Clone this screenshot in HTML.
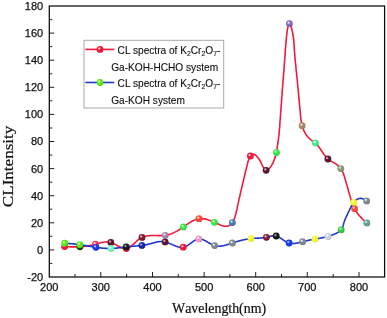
<!DOCTYPE html>
<html><head><meta charset="utf-8"><title>CL spectra</title>
<style>html,body{margin:0;padding:0;background:#fff}svg{display:block}</style></head>
<body>
<svg width="387" height="318" viewBox="0 0 387 318">
<defs>
<radialGradient id="g_red" cx="0.38" cy="0.36" r="0.68"><stop offset="0" stop-color="#fff"/><stop offset="0.1" stop-color="#ffc0cc"/><stop offset="0.36" stop-color="#f21838"/><stop offset="0.8" stop-color="#f21838"/><stop offset="1" stop-color="#c01030"/></radialGradient>
<radialGradient id="g_lred" cx="0.38" cy="0.36" r="0.68"><stop offset="0" stop-color="#fff"/><stop offset="0.1" stop-color="#ffd0d8"/><stop offset="0.36" stop-color="#ff3858"/><stop offset="0.8" stop-color="#ff3858"/><stop offset="1" stop-color="#d02040"/></radialGradient>
<radialGradient id="g_dkgreen" cx="0.38" cy="0.36" r="0.68"><stop offset="0" stop-color="#fff"/><stop offset="0.1" stop-color="#80a080"/><stop offset="0.36" stop-color="#204020"/><stop offset="0.8" stop-color="#204020"/><stop offset="1" stop-color="#102010"/></radialGradient>
<radialGradient id="g_maroon" cx="0.38" cy="0.36" r="0.68"><stop offset="0" stop-color="#fff"/><stop offset="0.1" stop-color="#d0a8b8"/><stop offset="0.36" stop-color="#581830"/><stop offset="0.8" stop-color="#581830"/><stop offset="1" stop-color="#300818"/></radialGradient>
<radialGradient id="g_maroon2" cx="0.38" cy="0.36" r="0.68"><stop offset="0" stop-color="#fff"/><stop offset="0.1" stop-color="#d8b0b8"/><stop offset="0.36" stop-color="#801c30"/><stop offset="0.8" stop-color="#801c30"/><stop offset="1" stop-color="#500818"/></radialGradient>
<radialGradient id="g_mauve" cx="0.38" cy="0.36" r="0.68"><stop offset="0" stop-color="#fff"/><stop offset="0.1" stop-color="#f0e0f0"/><stop offset="0.36" stop-color="#b080b0"/><stop offset="0.8" stop-color="#b080b0"/><stop offset="1" stop-color="#805880"/></radialGradient>
<radialGradient id="g_green" cx="0.38" cy="0.36" r="0.68"><stop offset="0" stop-color="#fff"/><stop offset="0.1" stop-color="#c8ffc8"/><stop offset="0.36" stop-color="#38e848"/><stop offset="0.8" stop-color="#38e848"/><stop offset="1" stop-color="#20b830"/></radialGradient>
<radialGradient id="g_green2" cx="0.38" cy="0.36" r="0.68"><stop offset="0" stop-color="#fff"/><stop offset="0.1" stop-color="#c0f8c0"/><stop offset="0.36" stop-color="#38c848"/><stop offset="0.8" stop-color="#38c848"/><stop offset="1" stop-color="#209830"/></radialGradient>
<radialGradient id="g_lime" cx="0.38" cy="0.36" r="0.68"><stop offset="0" stop-color="#fff"/><stop offset="0.1" stop-color="#e0ffb0"/><stop offset="0.36" stop-color="#58e818"/><stop offset="0.8" stop-color="#58e818"/><stop offset="1" stop-color="#38b808"/></radialGradient>
<radialGradient id="g_orange" cx="0.38" cy="0.36" r="0.68"><stop offset="0" stop-color="#fff"/><stop offset="0.1" stop-color="#ffd8c0"/><stop offset="0.36" stop-color="#ff4838"/><stop offset="0.8" stop-color="#ff4838"/><stop offset="1" stop-color="#d83020"/></radialGradient>
<radialGradient id="g_steel" cx="0.38" cy="0.36" r="0.68"><stop offset="0" stop-color="#fff"/><stop offset="0.1" stop-color="#d0e0f0"/><stop offset="0.36" stop-color="#4878b0"/><stop offset="0.8" stop-color="#4878b0"/><stop offset="1" stop-color="#305888"/></radialGradient>
<radialGradient id="g_purple" cx="0.38" cy="0.36" r="0.68"><stop offset="0" stop-color="#fff"/><stop offset="0.1" stop-color="#e8e0ff"/><stop offset="0.36" stop-color="#8868c0"/><stop offset="0.8" stop-color="#8868c0"/><stop offset="1" stop-color="#6048a0"/></radialGradient>
<radialGradient id="g_tan" cx="0.38" cy="0.36" r="0.68"><stop offset="0" stop-color="#fff"/><stop offset="0.1" stop-color="#f0e8d0"/><stop offset="0.36" stop-color="#a88868"/><stop offset="0.8" stop-color="#a88868"/><stop offset="1" stop-color="#806850"/></radialGradient>
<radialGradient id="g_mint" cx="0.38" cy="0.36" r="0.68"><stop offset="0" stop-color="#fff"/><stop offset="0.1" stop-color="#d8ffe8"/><stop offset="0.36" stop-color="#48e888"/><stop offset="0.8" stop-color="#48e888"/><stop offset="1" stop-color="#28b860"/></radialGradient>
<radialGradient id="g_olive" cx="0.38" cy="0.36" r="0.68"><stop offset="0" stop-color="#fff"/><stop offset="0.1" stop-color="#e0e8c8"/><stop offset="0.36" stop-color="#889878"/><stop offset="0.8" stop-color="#889878"/><stop offset="1" stop-color="#607050"/></radialGradient>
<radialGradient id="g_teal" cx="0.38" cy="0.36" r="0.68"><stop offset="0" stop-color="#fff"/><stop offset="0.1" stop-color="#d8f0e8"/><stop offset="0.36" stop-color="#68a098"/><stop offset="0.8" stop-color="#68a098"/><stop offset="1" stop-color="#407870"/></radialGradient>
<radialGradient id="g_blue" cx="0.38" cy="0.36" r="0.68"><stop offset="0" stop-color="#fff"/><stop offset="0.1" stop-color="#a8b8ff"/><stop offset="0.36" stop-color="#1838e8"/><stop offset="0.8" stop-color="#1838e8"/><stop offset="1" stop-color="#0820b0"/></radialGradient>
<radialGradient id="g_aqua" cx="0.38" cy="0.36" r="0.68"><stop offset="0" stop-color="#fff"/><stop offset="0.1" stop-color="#e0fff8"/><stop offset="0.36" stop-color="#78f0c0"/><stop offset="0.8" stop-color="#78f0c0"/><stop offset="1" stop-color="#50c898"/></radialGradient>
<radialGradient id="g_black" cx="0.38" cy="0.36" r="0.68"><stop offset="0" stop-color="#fff"/><stop offset="0.1" stop-color="#a0a0a0"/><stop offset="0.36" stop-color="#181818"/><stop offset="0.8" stop-color="#181818"/><stop offset="1" stop-color="#000000"/></radialGradient>
<radialGradient id="g_navy" cx="0.38" cy="0.36" r="0.68"><stop offset="0" stop-color="#fff"/><stop offset="0.1" stop-color="#90a0e0"/><stop offset="0.36" stop-color="#1828a0"/><stop offset="0.8" stop-color="#1828a0"/><stop offset="1" stop-color="#081068"/></radialGradient>
<radialGradient id="g_pink" cx="0.38" cy="0.36" r="0.68"><stop offset="0" stop-color="#fff"/><stop offset="0.1" stop-color="#fff0f8"/><stop offset="0.36" stop-color="#f098c0"/><stop offset="0.8" stop-color="#f098c0"/><stop offset="1" stop-color="#d07098"/></radialGradient>
<radialGradient id="g_gray" cx="0.38" cy="0.36" r="0.68"><stop offset="0" stop-color="#fff"/><stop offset="0.1" stop-color="#e8ecf0"/><stop offset="0.36" stop-color="#808890"/><stop offset="0.8" stop-color="#808890"/><stop offset="1" stop-color="#586068"/></radialGradient>
<radialGradient id="g_lgray" cx="0.38" cy="0.36" r="0.68"><stop offset="0" stop-color="#fff"/><stop offset="0.1" stop-color="#ffffff"/><stop offset="0.36" stop-color="#c8d0d8"/><stop offset="0.8" stop-color="#c8d0d8"/><stop offset="1" stop-color="#a0a8b0"/></radialGradient>
<radialGradient id="g_yellow" cx="0.38" cy="0.36" r="0.68"><stop offset="0" stop-color="#fff"/><stop offset="0.1" stop-color="#ffffd0"/><stop offset="0.36" stop-color="#f4f428"/><stop offset="0.8" stop-color="#f4f428"/><stop offset="1" stop-color="#d0d010"/></radialGradient>
</defs>
<rect width="387" height="318" fill="#fff"/>
<rect x="49.3" y="6.0" width="335.3" height="271.0" fill="none" stroke="#0a0a0a" stroke-width="1.25"/>
<path d="M75.0,277.0 v-3 M100.8,277.0 v-5 M126.6,277.0 v-3 M152.5,277.0 v-5 M178.3,277.0 v-3 M204.1,277.0 v-5 M229.9,277.0 v-3 M255.7,277.0 v-5 M281.5,277.0 v-3 M307.3,277.0 v-5 M333.2,277.0 v-3 M359.0,277.0 v-5 M49.3,263.4 h3 M49.3,249.9 h5 M49.3,236.3 h3 M49.3,222.8 h5 M49.3,209.2 h3 M49.3,195.7 h5 M49.3,182.2 h3 M49.3,168.6 h5 M49.3,155.1 h3 M49.3,141.5 h5 M49.3,128.0 h3 M49.3,114.4 h5 M49.3,100.8 h3 M49.3,87.3 h5 M49.3,73.8 h3 M49.3,60.2 h5 M49.3,46.6 h3 M49.3,33.1 h5 M49.3,19.6 h3" stroke="#0a0a0a" stroke-width="0.9" fill="none"/>
<g font-family="Liberation Sans, Arial, sans-serif" font-size="11" fill="#111" stroke="#111" stroke-width="0.25">
<text x="43.2" y="280.9" text-anchor="end">-20</text>
<text x="43.2" y="253.8" text-anchor="end">0</text>
<text x="43.2" y="226.7" text-anchor="end">20</text>
<text x="43.2" y="199.6" text-anchor="end">40</text>
<text x="43.2" y="172.5" text-anchor="end">60</text>
<text x="43.2" y="145.4" text-anchor="end">80</text>
<text x="43.2" y="118.3" text-anchor="end">100</text>
<text x="43.2" y="91.2" text-anchor="end">120</text>
<text x="43.2" y="64.1" text-anchor="end">140</text>
<text x="43.2" y="37.0" text-anchor="end">160</text>
<text x="43.2" y="9.9" text-anchor="end">180</text>
<text x="49.2" y="291.4" text-anchor="middle">200</text>
<text x="100.8" y="291.4" text-anchor="middle">300</text>
<text x="152.5" y="291.4" text-anchor="middle">400</text>
<text x="204.1" y="291.4" text-anchor="middle">500</text>
<text x="255.7" y="291.4" text-anchor="middle">600</text>
<text x="307.3" y="291.4" text-anchor="middle">700</text>
<text x="359.0" y="291.4" text-anchor="middle">800</text>
</g>
<g font-family="Liberation Serif, Times New Roman, serif" fill="#111" stroke="#111" stroke-width="0.22" style="font-kerning:none">
<text x="219.1" y="312.5" font-size="14" text-anchor="middle" textLength="94" lengthAdjust="spacingAndGlyphs">Wavelength(nm)</text>
<text transform="translate(12.8,166.4) rotate(-90)" font-size="14.8" text-anchor="middle" textLength="81.5" lengthAdjust="spacingAndGlyphs">CLIntensity</text>
</g>
<path d="M64.6,246.6 L65.6,246.6 L66.5,246.7 L67.5,246.7 L68.4,246.8 L69.4,246.8 L70.3,246.9 L71.3,246.9 L72.2,246.9 L73.2,246.9 L74.2,246.9 L75.1,246.9 L76.1,246.9 L77.0,246.9 L78.0,246.9 L78.9,246.9 L79.9,246.8 L80.9,246.7 L81.8,246.7 L82.8,246.6 L83.7,246.5 L84.7,246.3 L85.6,246.2 L86.6,246.1 L87.5,245.9 L88.5,245.8 L89.5,245.6 L90.4,245.4 L91.4,245.2 L92.3,245.0 L93.3,244.7 L94.2,244.5 L95.2,244.3 L96.1,244.0 L97.1,243.7 L98.1,243.5 L99.0,243.2 L100.0,243.0 L100.9,242.7 L101.9,242.5 L102.8,242.3 L103.8,242.2 L104.7,242.0 L105.7,242.0 L106.7,241.9 L107.6,242.0 L108.6,242.0 L109.5,242.2 L110.5,242.4 L111.5,242.7 L112.4,243.1 L113.4,243.5 L114.3,244.0 L115.3,244.5 L116.2,245.0 L117.2,245.5 L118.1,246.0 L119.1,246.6 L120.0,247.0 L120.9,247.5 L121.9,247.9 L122.8,248.2 L123.7,248.4 L124.5,248.6 L125.4,248.7 L126.3,248.6 L127.1,248.4 L128.0,248.1 L128.8,247.7 L129.6,247.2 L130.5,246.7 L131.3,246.0 L132.1,245.4 L132.9,244.6 L133.8,243.8 L134.6,243.1 L135.5,242.3 L136.3,241.5 L137.2,240.7 L138.1,239.9 L139.1,239.2 L140.0,238.5 L141.0,237.9 L142.0,237.4 L143.1,236.9 L144.1,236.6 L145.3,236.2 L146.4,236.0 L147.5,235.8 L148.7,235.7 L149.9,235.6 L151.1,235.5 L152.3,235.5 L153.5,235.5 L154.7,235.5 L156.0,235.5 L157.2,235.5 L158.4,235.6 L159.6,235.6 L160.8,235.6 L162.0,235.5 L163.2,235.5 L164.4,235.4 L165.5,235.3 L166.6,235.1 L167.7,234.8 L168.8,234.6 L169.9,234.2 L170.9,233.9 L172.0,233.5 L173.0,233.1 L174.0,232.6 L174.9,232.1 L175.9,231.6 L176.9,231.1 L177.8,230.6 L178.8,230.0 L179.7,229.4 L180.6,228.8 L181.5,228.2 L182.5,227.6 L183.4,226.9 L184.3,226.3 L185.2,225.7 L186.1,225.0 L187.0,224.4 L187.9,223.8 L188.8,223.2 L189.7,222.6 L190.6,222.1 L191.5,221.5 L192.4,221.0 L193.3,220.6 L194.2,220.1 L195.1,219.8 L196.0,219.4 L196.9,219.1 L197.9,218.9 L198.8,218.7 L199.7,218.6 L200.7,218.6 L201.6,218.6 L202.6,218.6 L203.5,218.7 L204.5,218.9 L205.5,219.1 L206.4,219.3 L207.4,219.6 L208.3,219.9 L209.3,220.2 L210.2,220.5 L211.2,220.9 L212.1,221.3 L213.0,221.7 L214.0,222.1 L214.9,222.5 L215.8,222.9 L216.7,223.3 L217.6,223.7 L218.4,224.1 L219.3,224.5 L220.1,224.9 L220.9,225.2 L221.8,225.5 L222.6,225.7 L223.3,225.9 L224.1,226.1 L224.8,226.2 L225.6,226.3 L226.3,226.3 L226.9,226.2 L227.6,226.1 L228.2,225.9 L228.8,225.7 L229.4,225.4 L230.0,225.1 L230.5,224.6 L231.1,224.2 L231.5,223.7 L232.0,223.1 L232.4,222.5 L232.8,221.9 L233.2,221.2 L233.6,220.5 L233.9,219.8 L234.2,219.0 L234.5,218.2 L234.8,217.4 L235.1,216.5 L235.3,215.7 L235.6,214.8 L235.8,214.0 L236.0,213.1 L236.2,212.3 L236.4,211.4 L236.6,210.6 L236.8,209.8 L237.0,208.9 L237.1,208.1 L237.3,207.3 L237.5,206.5 L237.6,205.7 L237.8,205.0 L238.0,204.2 L238.2,203.4 L238.3,202.6 L238.5,201.8 L238.7,201.0 L238.8,200.2 L239.0,199.4 L239.2,198.6 L239.4,197.7 L239.6,196.9 L239.8,196.0 L240.0,195.2 L240.2,194.3 L240.4,193.4 L240.6,192.5 L240.8,191.6 L241.0,190.6 L241.3,189.7 L241.5,188.7 L241.7,187.7 L242.0,186.7 L242.2,185.7 L242.4,184.6 L242.7,183.5 L243.0,182.5 L243.2,181.4 L243.5,180.3 L243.7,179.1 L244.0,178.0 L244.3,176.9 L244.5,175.8 L244.8,174.7 L245.1,173.6 L245.3,172.5 L245.6,171.4 L245.8,170.3 L246.1,169.2 L246.4,168.2 L246.6,167.2 L246.9,166.2 L247.1,165.2 L247.3,164.3 L247.6,163.3 L247.8,162.5 L248.1,161.6 L248.3,160.8 L248.6,160.0 L248.8,159.3 L249.1,158.6 L249.4,157.9 L249.7,157.3 L250.0,156.7 L250.3,156.2 L250.6,155.7 L251.0,155.3 L251.3,154.9 L251.7,154.6 L252.1,154.4 L252.6,154.2 L253.0,154.2 L253.5,154.2 L253.9,154.3 L254.4,154.5 L254.9,154.8 L255.4,155.1 L255.9,155.5 L256.4,156.0 L256.9,156.5 L257.3,157.0 L257.8,157.6 L258.2,158.1 L258.7,158.7 L259.1,159.3 L259.5,159.9 L259.8,160.5 L260.2,161.1 L260.5,161.7 L260.8,162.3 L261.2,162.9 L261.5,163.5 L261.8,164.1 L262.1,164.8 L262.4,165.4 L262.7,166.1 L263.0,166.7 L263.4,167.4 L263.7,168.0 L264.0,168.5 L264.4,169.1 L264.8,169.5 L265.2,169.9 L265.6,170.1 L266.0,170.3 L266.5,170.3 L266.9,170.2 L267.4,170.0 L267.9,169.7 L268.4,169.3 L269.0,168.8 L269.5,168.3 L270.0,167.6 L270.5,166.9 L271.0,166.2 L271.5,165.4 L272.0,164.6 L272.4,163.8 L272.9,163.0 L273.3,162.1 L273.6,161.3 L274.0,160.4 L274.3,159.5 L274.7,158.7 L275.0,157.8 L275.2,156.9 L275.5,156.1 L275.7,155.2 L275.9,154.4 L276.1,153.6 L276.3,152.9 L276.5,152.2 L276.6,151.4 L276.7,150.8 L276.8,150.1 L276.9,149.5 L277.0,148.9 L277.1,148.3 L277.2,147.7 L277.2,147.2 L277.3,146.6 L277.4,146.0 L277.5,145.5 L277.6,144.9 L277.7,144.3 L277.8,143.8 L277.9,143.1 L278.0,142.5 L278.1,141.8 L278.2,141.1 L278.3,140.4 L278.4,139.5 L278.5,138.7 L278.6,137.7 L278.7,136.7 L278.9,135.6 L279.0,134.5 L279.1,133.3 L279.2,132.0 L279.3,130.7 L279.4,129.4 L279.6,127.9 L279.7,126.5 L279.8,125.0 L279.9,123.5 L280.0,121.9 L280.1,120.3 L280.3,118.7 L280.4,117.1 L280.5,115.4 L280.6,113.7 L280.7,112.0 L280.9,110.3 L281.0,108.6 L281.1,106.8 L281.2,105.1 L281.4,103.4 L281.5,101.6 L281.6,99.9 L281.7,98.2 L281.9,96.5 L282.0,94.8 L282.1,93.2 L282.2,91.5 L282.4,89.8 L282.5,88.2 L282.6,86.6 L282.8,84.9 L282.9,83.3 L283.0,81.8 L283.1,80.2 L283.3,78.6 L283.4,77.1 L283.5,75.5 L283.6,74.0 L283.7,72.5 L283.9,71.0 L284.0,69.6 L284.1,68.1 L284.2,66.7 L284.3,65.3 L284.4,63.9 L284.5,62.5 L284.6,61.2 L284.7,59.8 L284.8,58.5 L284.9,57.2 L285.0,55.9 L285.1,54.7 L285.2,53.4 L285.2,52.2 L285.3,50.9 L285.4,49.7 L285.5,48.5 L285.6,47.3 L285.7,46.1 L285.8,44.9 L285.9,43.7 L286.0,42.5 L286.1,41.4 L286.2,40.2 L286.3,39.0 L286.4,37.8 L286.5,36.6 L286.7,35.4 L286.8,34.2 L286.9,33.0 L287.1,31.8 L287.2,30.7 L287.4,29.6 L287.6,28.5 L287.8,27.5 L288.0,26.6 L288.2,25.8 L288.4,25.1 L288.6,24.5 L288.8,24.1 L289.1,23.8 L289.3,23.7 L289.6,23.8 L289.9,24.0 L290.1,24.4 L290.4,24.9 L290.7,25.6 L291.0,26.3 L291.2,27.2 L291.5,28.1 L291.8,29.1 L292.0,30.2 L292.3,31.3 L292.5,32.4 L292.7,33.5 L292.9,34.6 L293.1,35.7 L293.3,36.7 L293.4,37.7 L293.5,38.7 L293.6,39.6 L293.7,40.6 L293.8,41.5 L293.9,42.4 L294.0,43.3 L294.0,44.2 L294.1,45.1 L294.2,46.0 L294.2,47.0 L294.3,47.9 L294.3,48.8 L294.4,49.8 L294.4,50.7 L294.5,51.7 L294.6,52.7 L294.7,53.7 L294.8,54.8 L294.8,55.8 L294.9,56.9 L295.0,58.0 L295.1,59.1 L295.2,60.2 L295.3,61.3 L295.4,62.4 L295.6,63.6 L295.7,64.7 L295.8,65.8 L295.9,67.0 L296.0,68.2 L296.1,69.3 L296.2,70.5 L296.4,71.6 L296.5,72.8 L296.6,74.0 L296.7,75.1 L296.8,76.3 L296.9,77.4 L297.1,78.5 L297.2,79.7 L297.3,80.8 L297.4,81.9 L297.5,83.0 L297.6,84.0 L297.7,85.1 L297.8,86.1 L297.9,87.2 L298.0,88.1 L298.1,89.1 L298.2,90.1 L298.3,91.0 L298.4,91.9 L298.5,92.8 L298.5,93.6 L298.6,94.5 L298.7,95.3 L298.8,96.1 L298.8,97.0 L298.9,97.8 L299.0,98.6 L299.1,99.4 L299.1,100.2 L299.2,101.1 L299.3,101.9 L299.4,102.7 L299.4,103.6 L299.5,104.5 L299.6,105.4 L299.7,106.3 L299.8,107.1 L299.9,108.0 L299.9,108.9 L300.0,109.8 L300.1,110.7 L300.2,111.6 L300.3,112.5 L300.4,113.4 L300.4,114.2 L300.5,115.1 L300.6,115.9 L300.7,116.7 L300.7,117.6 L300.8,118.4 L300.9,119.2 L301.0,119.9 L301.1,120.7 L301.2,121.5 L301.3,122.3 L301.5,123.1 L301.6,123.8 L301.8,124.6 L302.0,125.4 L302.2,126.2 L302.5,127.0 L302.8,127.8 L303.0,128.6 L303.4,129.4 L303.7,130.1 L304.0,130.9 L304.4,131.7 L304.8,132.4 L305.2,133.1 L305.6,133.8 L306.0,134.5 L306.4,135.1 L306.8,135.7 L307.3,136.3 L307.7,136.8 L308.1,137.3 L308.6,137.8 L309.1,138.3 L309.5,138.7 L310.0,139.1 L310.4,139.4 L310.9,139.8 L311.3,140.1 L311.8,140.4 L312.2,140.7 L312.6,140.9 L313.1,141.2 L313.5,141.5 L313.9,141.7 L314.4,142.1 L314.8,142.4 L315.3,142.8 L315.7,143.2 L316.2,143.7 L316.7,144.2 L317.1,144.7 L317.6,145.3 L318.1,145.9 L318.6,146.6 L319.1,147.2 L319.6,147.9 L320.1,148.6 L320.5,149.3 L321.0,150.0 L321.5,150.7 L322.0,151.4 L322.4,152.1 L322.9,152.8 L323.4,153.5 L323.8,154.2 L324.3,154.8 L324.8,155.5 L325.2,156.1 L325.7,156.7 L326.2,157.3 L326.7,157.8 L327.2,158.3 L327.7,158.8 L328.2,159.3 L328.7,159.7 L329.3,160.1 L329.8,160.4 L330.4,160.8 L330.9,161.1 L331.5,161.4 L332.1,161.7 L332.7,162.0 L333.3,162.4 L333.9,162.7 L334.5,163.1 L335.1,163.4 L335.7,163.8 L336.3,164.2 L336.8,164.7 L337.4,165.1 L338.0,165.6 L338.5,166.1 L339.1,166.6 L339.6,167.1 L340.1,167.7 L340.5,168.2 L341.0,168.8 L341.4,169.4 L341.7,170.0 L342.1,170.7 L342.4,171.4 L342.7,172.0 L343.0,172.7 L343.3,173.4 L343.6,174.1 L343.8,174.9 L344.1,175.6 L344.3,176.4 L344.5,177.1 L344.8,177.9 L345.0,178.7 L345.2,179.4 L345.5,180.2 L345.7,181.0 L345.9,181.8 L346.2,182.6 L346.4,183.4 L346.6,184.2 L346.9,185.0 L347.1,185.8 L347.3,186.6 L347.6,187.4 L347.8,188.2 L348.0,189.0 L348.2,189.8 L348.4,190.6 L348.7,191.4 L348.9,192.2 L349.1,193.0 L349.3,193.8 L349.6,194.6 L349.8,195.4 L350.0,196.2 L350.2,197.0 L350.5,197.8 L350.7,198.5 L350.9,199.3 L351.2,200.1 L351.4,200.8 L351.7,201.6 L351.9,202.3 L352.2,203.1 L352.4,203.8 L352.7,204.5 L353.0,205.3 L353.3,206.0 L353.6,206.7 L353.9,207.4 L354.3,208.1 L354.6,208.8 L355.0,209.4 L355.4,210.1 L355.8,210.8 L356.2,211.4 L356.6,212.1 L357.1,212.7 L357.5,213.3 L358.0,213.9 L358.5,214.5 L358.9,215.1 L359.4,215.7 L359.9,216.3 L360.4,216.8 L360.9,217.4 L361.5,217.9 L362.0,218.5 L362.5,219.0 L363.0,219.5 L363.6,220.0 L364.1,220.5 L364.6,221.0 L365.2,221.5 L365.7,221.9 L366.3,222.4 L366.8,222.9" fill="none" stroke="#f21838" stroke-width="1.6" stroke-linejoin="round" stroke-linecap="round"/>
<circle cx="64.6" cy="246.6" r="3.4" fill="url(#g_red)"/>
<circle cx="79.9" cy="246.8" r="3.4" fill="url(#g_dkgreen)"/>
<circle cx="95.4" cy="244.2" r="3.4" fill="url(#g_lred)"/>
<circle cx="110.8" cy="242.5" r="3.4" fill="url(#g_maroon)"/>
<circle cx="126.3" cy="248.6" r="3.4" fill="url(#g_red)"/>
<circle cx="142.0" cy="237.4" r="3.4" fill="url(#g_maroon2)"/>
<circle cx="165.2" cy="235.3" r="3.4" fill="url(#g_mauve)"/>
<circle cx="183.4" cy="226.9" r="3.4" fill="url(#g_green)"/>
<circle cx="199.0" cy="218.7" r="3.4" fill="url(#g_orange)"/>
<circle cx="214.4" cy="222.3" r="3.4" fill="url(#g_green)"/>
<circle cx="232.4" cy="222.6" r="3.4" fill="url(#g_steel)"/>
<circle cx="250.4" cy="156.0" r="3.4" fill="url(#g_red)"/>
<circle cx="266.1" cy="170.3" r="3.4" fill="url(#g_maroon)"/>
<circle cx="276.4" cy="152.4" r="3.4" fill="url(#g_green)"/>
<circle cx="289.4" cy="23.7" r="3.4" fill="url(#g_purple)"/>
<circle cx="302.1" cy="125.7" r="3.4" fill="url(#g_tan)"/>
<circle cx="315.4" cy="142.9" r="3.4" fill="url(#g_mint)"/>
<circle cx="327.9" cy="159" r="3.4" fill="url(#g_maroon)"/>
<circle cx="340.8" cy="168.6" r="3.4" fill="url(#g_olive)"/>
<circle cx="354.6" cy="208.7" r="3.4" fill="url(#g_orange)"/>
<circle cx="366.8" cy="222.9" r="3.4" fill="url(#g_teal)"/>
<path d="M64.7,243.2 L65.2,243.2 L65.7,243.3 L66.2,243.3 L66.7,243.4 L67.2,243.4 L67.7,243.4 L68.2,243.5 L68.7,243.5 L69.2,243.6 L69.7,243.6 L70.2,243.6 L70.7,243.7 L71.2,243.7 L71.7,243.8 L72.2,243.8 L72.7,243.9 L73.2,243.9 L73.7,244.0 L74.2,244.0 L74.7,244.1 L75.2,244.1 L75.8,244.2 L76.3,244.2 L76.8,244.3 L77.3,244.4 L77.8,244.4 L78.3,244.5 L78.8,244.6 L79.3,244.6 L79.8,244.7 L80.3,244.8 L80.8,244.8 L81.4,244.9 L81.9,245.0 L82.4,245.1 L82.9,245.1 L83.4,245.2 L83.9,245.3 L84.5,245.4 L85.0,245.5 L85.5,245.6 L86.0,245.6 L86.5,245.7 L87.0,245.8 L87.6,245.9 L88.1,246.0 L88.6,246.1 L89.1,246.2 L89.6,246.3 L90.1,246.4 L90.7,246.4 L91.2,246.5 L91.7,246.6 L92.2,246.7 L92.7,246.8 L93.2,246.9 L93.7,247.0 L94.3,247.0 L94.8,247.1 L95.3,247.2 L95.8,247.3 L96.3,247.4 L96.8,247.4 L97.3,247.5 L97.8,247.6 L98.3,247.7 L98.8,247.7 L99.3,247.8 L99.9,247.9 L100.4,247.9 L100.9,248.0 L101.4,248.0 L101.9,248.1 L102.4,248.1 L102.9,248.2 L103.4,248.2 L103.9,248.3 L104.4,248.3 L104.9,248.4 L105.4,248.4 L105.9,248.4 L106.4,248.4 L106.9,248.5 L107.4,248.5 L107.9,248.5 L108.4,248.5 L108.9,248.5 L109.3,248.5 L109.8,248.5 L110.3,248.5 L110.8,248.5 L111.3,248.5 L111.8,248.5 L112.3,248.4 L112.8,248.4 L113.3,248.4 L113.8,248.3 L114.3,248.3 L114.8,248.3 L115.3,248.2 L115.8,248.2 L116.3,248.1 L116.8,248.1 L117.3,248.0 L117.8,247.9 L118.3,247.9 L118.8,247.8 L119.3,247.8 L119.8,247.7 L120.3,247.6 L120.8,247.6 L121.3,247.5 L121.9,247.4 L122.4,247.4 L122.9,247.3 L123.4,247.2 L123.9,247.2 L124.4,247.1 L125.0,247.0 L125.5,247.0 L126.0,246.9 L126.5,246.9 L127.1,246.8 L127.6,246.8 L128.1,246.7 L128.7,246.6 L129.2,246.6 L129.7,246.5 L130.3,246.5 L130.8,246.5 L131.3,246.4 L131.9,246.4 L132.4,246.3 L132.9,246.3 L133.5,246.2 L134.0,246.2 L134.5,246.1 L135.0,246.1 L135.5,246.0 L136.1,246.0 L136.6,246.0 L137.1,245.9 L137.6,245.9 L138.1,245.8 L138.6,245.8 L139.1,245.7 L139.6,245.7 L140.0,245.6 L140.5,245.6 L141.0,245.5 L141.4,245.5 L141.9,245.4 L142.3,245.3 L142.8,245.3 L143.2,245.2 L143.6,245.2 L144.1,245.1 L144.5,245.0 L144.9,244.9 L145.3,244.9 L145.7,244.8 L146.1,244.7 L146.5,244.6 L146.9,244.6 L147.3,244.5 L147.7,244.4 L148.1,244.3 L148.5,244.2 L148.9,244.1 L149.3,244.0 L149.7,243.9 L150.1,243.8 L150.5,243.7 L150.9,243.6 L151.3,243.5 L151.7,243.4 L152.1,243.3 L152.5,243.2 L152.9,243.0 L153.3,242.9 L153.8,242.8 L154.2,242.7 L154.6,242.6 L155.1,242.4 L155.5,242.3 L156.0,242.2 L156.4,242.1 L156.9,242.0 L157.3,241.9 L157.8,241.8 L158.3,241.8 L158.7,241.7 L159.2,241.6 L159.7,241.6 L160.2,241.5 L160.7,241.5 L161.2,241.5 L161.6,241.5 L162.1,241.5 L162.6,241.5 L163.1,241.6 L163.7,241.6 L164.2,241.7 L164.7,241.8 L165.2,241.9 L165.7,242.1 L166.3,242.2 L166.8,242.4 L167.3,242.6 L167.9,242.8 L168.4,243.0 L168.9,243.2 L169.5,243.4 L170.0,243.6 L170.6,243.9 L171.1,244.1 L171.7,244.4 L172.2,244.6 L172.8,244.9 L173.3,245.1 L173.9,245.3 L174.4,245.6 L175.0,245.8 L175.5,246.0 L176.1,246.2 L176.6,246.4 L177.2,246.6 L177.7,246.7 L178.3,246.9 L178.8,247.0 L179.3,247.1 L179.9,247.2 L180.4,247.3 L180.9,247.3 L181.5,247.3 L182.0,247.3 L182.5,247.3 L183.0,247.2 L183.6,247.1 L184.1,247.0 L184.6,246.8 L185.1,246.6 L185.6,246.4 L186.1,246.2 L186.6,245.9 L187.1,245.7 L187.6,245.4 L188.1,245.1 L188.5,244.7 L189.0,244.4 L189.5,244.1 L190.0,243.7 L190.5,243.4 L190.9,243.0 L191.4,242.7 L191.9,242.3 L192.4,242.0 L192.8,241.7 L193.3,241.3 L193.8,241.0 L194.2,240.7 L194.7,240.4 L195.2,240.2 L195.6,239.9 L196.1,239.7 L196.6,239.5 L197.1,239.3 L197.5,239.2 L198.0,239.0 L198.5,238.9 L198.9,238.9 L199.4,238.9 L199.9,238.9 L200.4,238.9 L200.8,239.0 L201.3,239.1 L201.8,239.2 L202.3,239.4 L202.8,239.5 L203.2,239.7 L203.7,240.0 L204.2,240.2 L204.7,240.4 L205.2,240.7 L205.7,241.0 L206.2,241.2 L206.7,241.5 L207.1,241.8 L207.6,242.1 L208.1,242.4 L208.6,242.7 L209.1,243.0 L209.6,243.3 L210.2,243.6 L210.7,243.9 L211.2,244.1 L211.7,244.4 L212.2,244.6 L212.7,244.9 L213.2,245.1 L213.7,245.3 L214.2,245.5 L214.8,245.7 L215.3,245.8 L215.8,245.9 L216.3,246.0 L216.9,246.1 L217.4,246.1 L217.9,246.2 L218.5,246.2 L219.0,246.2 L219.5,246.2 L220.1,246.1 L220.6,246.1 L221.2,246.0 L221.7,246.0 L222.2,245.9 L222.8,245.8 L223.3,245.7 L223.9,245.6 L224.4,245.4 L225.0,245.3 L225.5,245.2 L226.1,245.0 L226.6,244.8 L227.2,244.7 L227.7,244.5 L228.3,244.3 L228.8,244.2 L229.4,244.0 L229.9,243.8 L230.5,243.6 L231.0,243.4 L231.6,243.2 L232.1,243.1 L232.7,242.9 L233.2,242.7 L233.8,242.5 L234.3,242.3 L234.9,242.2 L235.5,242.0 L236.0,241.8 L236.6,241.7 L237.1,241.5 L237.7,241.3 L238.2,241.2 L238.8,241.0 L239.3,240.9 L239.9,240.7 L240.4,240.6 L241.0,240.4 L241.5,240.3 L242.1,240.2 L242.6,240.0 L243.2,239.9 L243.7,239.8 L244.3,239.7 L244.9,239.6 L245.4,239.4 L246.0,239.3 L246.5,239.2 L247.1,239.1 L247.6,239.1 L248.1,239.0 L248.7,238.9 L249.2,238.8 L249.8,238.7 L250.3,238.7 L250.9,238.6 L251.4,238.5 L252.0,238.5 L252.5,238.4 L253.1,238.4 L253.6,238.4 L254.1,238.3 L254.7,238.3 L255.2,238.3 L255.8,238.2 L256.3,238.2 L256.8,238.2 L257.4,238.1 L257.9,238.1 L258.4,238.1 L258.9,238.1 L259.4,238.0 L259.9,238.0 L260.5,238.0 L261.0,238.0 L261.5,237.9 L262.0,237.9 L262.4,237.8 L262.9,237.8 L263.4,237.7 L263.9,237.7 L264.4,237.6 L264.8,237.6 L265.3,237.5 L265.8,237.4 L266.2,237.3 L266.6,237.2 L267.1,237.2 L267.5,237.0 L267.9,236.9 L268.4,236.8 L268.8,236.7 L269.2,236.6 L269.6,236.5 L270.0,236.4 L270.4,236.3 L270.8,236.2 L271.2,236.1 L271.6,236.0 L272.0,235.9 L272.4,235.9 L272.8,235.8 L273.2,235.8 L273.6,235.7 L273.9,235.7 L274.3,235.7 L274.7,235.8 L275.1,235.8 L275.5,235.8 L275.9,235.9 L276.3,236.0 L276.7,236.2 L277.1,236.3 L277.5,236.5 L278.0,236.7 L278.4,236.9 L278.8,237.1 L279.2,237.3 L279.6,237.6 L280.0,237.8 L280.5,238.1 L280.9,238.4 L281.3,238.7 L281.8,238.9 L282.2,239.2 L282.6,239.5 L283.1,239.8 L283.5,240.1 L284.0,240.4 L284.4,240.7 L284.9,241.0 L285.3,241.2 L285.8,241.5 L286.2,241.7 L286.7,242.0 L287.1,242.2 L287.6,242.4 L288.1,242.6 L288.5,242.8 L289.0,243.0 L289.4,243.1 L289.9,243.2 L290.4,243.3 L290.9,243.4 L291.3,243.5 L291.8,243.5 L292.3,243.5 L292.7,243.5 L293.2,243.5 L293.7,243.5 L294.2,243.5 L294.7,243.4 L295.1,243.4 L295.6,243.3 L296.1,243.2 L296.6,243.2 L297.0,243.1 L297.5,243.0 L298.0,242.9 L298.5,242.8 L298.9,242.6 L299.4,242.5 L299.9,242.4 L300.4,242.3 L300.8,242.1 L301.3,242.0 L301.8,241.9 L302.2,241.8 L302.7,241.6 L303.2,241.5 L303.6,241.4 L304.1,241.3 L304.6,241.2 L305.0,241.1 L305.5,241.0 L305.9,240.9 L306.4,240.8 L306.8,240.7 L307.3,240.6 L307.7,240.5 L308.2,240.4 L308.7,240.3 L309.1,240.2 L309.5,240.1 L310.0,240.0 L310.4,239.9 L310.9,239.8 L311.3,239.7 L311.8,239.7 L312.2,239.6 L312.7,239.5 L313.1,239.4 L313.6,239.3 L314.0,239.3 L314.5,239.2 L314.9,239.1 L315.3,239.0 L315.8,239.0 L316.2,238.9 L316.7,238.8 L317.1,238.7 L317.6,238.7 L318.0,238.6 L318.5,238.5 L318.9,238.4 L319.3,238.3 L319.8,238.3 L320.3,238.2 L320.7,238.1 L321.2,238.0 L321.6,237.9 L322.1,237.8 L322.6,237.7 L323.0,237.6 L323.5,237.5 L324.0,237.4 L324.4,237.3 L324.9,237.2 L325.4,237.1 L325.9,237.0 L326.4,236.8 L326.9,236.7 L327.4,236.6 L327.9,236.4 L328.4,236.3 L328.9,236.1 L329.4,236.0 L329.9,235.8 L330.5,235.6 L331.0,235.5 L331.5,235.3 L332.0,235.1 L332.5,234.9 L333.1,234.7 L333.6,234.5 L334.1,234.3 L334.6,234.1 L335.1,233.8 L335.5,233.6 L336.0,233.4 L336.5,233.2 L336.9,232.9 L337.4,232.7 L337.8,232.4 L338.2,232.2 L338.6,231.9 L339.0,231.7 L339.4,231.4 L339.7,231.1 L340.1,230.9 L340.4,230.6 L340.7,230.3 L341.0,230.0 L341.2,229.8 L341.5,229.5 L341.7,229.2 L341.9,228.9 L342.1,228.6 L342.2,228.3 L342.4,228.0 L342.5,227.7 L342.6,227.3 L342.7,227.0 L342.9,226.7 L342.9,226.4 L343.0,226.0 L343.1,225.7 L343.2,225.4 L343.3,225.0 L343.4,224.7 L343.5,224.3 L343.5,224.0 L343.6,223.6 L343.7,223.2 L343.8,222.9 L343.9,222.5 L344.1,222.1 L344.2,221.7 L344.3,221.4 L344.5,221.0 L344.6,220.6 L344.8,220.2 L344.9,219.8 L345.1,219.4 L345.3,219.0 L345.4,218.5 L345.6,218.1 L345.8,217.7 L346.0,217.3 L346.2,216.9 L346.4,216.5 L346.6,216.0 L346.8,215.6 L347.0,215.2 L347.2,214.7 L347.4,214.3 L347.6,213.9 L347.8,213.5 L348.0,213.0 L348.2,212.6 L348.4,212.2 L348.6,211.7 L348.8,211.3 L349.1,210.8 L349.3,210.4 L349.5,210.0 L349.7,209.6 L349.9,209.1 L350.1,208.7 L350.3,208.3 L350.5,207.9 L350.7,207.5 L350.9,207.1 L351.1,206.7 L351.3,206.3 L351.5,205.9 L351.7,205.5 L351.9,205.1 L352.1,204.8 L352.3,204.4 L352.5,204.1 L352.7,203.8 L352.9,203.4 L353.1,203.1 L353.3,202.8 L353.5,202.6 L353.7,202.3 L353.9,202.0 L354.1,201.8 L354.3,201.6 L354.5,201.3 L354.7,201.1 L354.9,200.9 L355.1,200.7 L355.3,200.6 L355.5,200.4 L355.7,200.2 L355.9,200.1 L356.1,199.9 L356.3,199.8 L356.5,199.7 L356.8,199.5 L357.0,199.4 L357.2,199.3 L357.4,199.2 L357.6,199.1 L357.9,199.0 L358.1,198.9 L358.3,198.8 L358.6,198.7 L358.8,198.7 L359.0,198.6 L359.3,198.5 L359.5,198.5 L359.7,198.5 L360.0,198.4 L360.2,198.4 L360.4,198.4 L360.7,198.4 L360.9,198.4 L361.1,198.4 L361.4,198.5 L361.6,198.5 L361.8,198.5 L362.1,198.6 L362.3,198.7 L362.5,198.7 L362.7,198.8 L363.0,198.9 L363.2,199.0 L363.4,199.1 L363.6,199.2 L363.9,199.3 L364.1,199.4 L364.3,199.5 L364.5,199.6 L364.7,199.7 L364.9,199.8 L365.1,200.0 L365.3,200.1 L365.6,200.2 L365.8,200.4 L366.0,200.5 L366.2,200.6 L366.4,200.8 L366.6,200.9" fill="none" stroke="#2038cc" stroke-width="1.6" stroke-linejoin="round" stroke-linecap="round"/>
<circle cx="64.7" cy="243.2" r="3.4" fill="url(#g_lime)"/>
<circle cx="79.9" cy="244.7" r="3.4" fill="url(#g_lime)"/>
<circle cx="95.9" cy="247.3" r="3.4" fill="url(#g_blue)"/>
<circle cx="110.9" cy="248.5" r="3.4" fill="url(#g_aqua)"/>
<circle cx="126.2" cy="246.9" r="3.4" fill="url(#g_black)"/>
<circle cx="141.9" cy="245.4" r="3.4" fill="url(#g_navy)"/>
<circle cx="165.1" cy="241.9" r="3.4" fill="url(#g_maroon)"/>
<circle cx="183.2" cy="247.2" r="3.4" fill="url(#g_red)"/>
<circle cx="198.8" cy="238.9" r="3.4" fill="url(#g_pink)"/>
<circle cx="214.6" cy="245.6" r="3.4" fill="url(#g_gray)"/>
<circle cx="232.3" cy="243" r="3.4" fill="url(#g_gray)"/>
<circle cx="250.9" cy="238.6" r="3.4" fill="url(#g_yellow)"/>
<circle cx="266.4" cy="237.3" r="3.4" fill="url(#g_maroon2)"/>
<circle cx="276.2" cy="236" r="3.4" fill="url(#g_black)"/>
<circle cx="289.1" cy="243" r="3.4" fill="url(#g_blue)"/>
<circle cx="302.5" cy="241.7" r="3.4" fill="url(#g_gray)"/>
<circle cx="314.9" cy="239.1" r="3.4" fill="url(#g_yellow)"/>
<circle cx="328.0" cy="236.4" r="3.4" fill="url(#g_lgray)"/>
<circle cx="341.2" cy="229.8" r="3.4" fill="url(#g_green2)"/>
<circle cx="353.7" cy="202.3" r="3.4" fill="url(#g_yellow)"/>
<circle cx="366.6" cy="200.9" r="3.4" fill="url(#g_gray)"/>
<rect x="84" y="40.3" width="139.7" height="67.7" fill="#fff" stroke="#a8a8a8" stroke-width="1"/>
<path d="M85.3,49.4 H114.3" stroke="#f21838" stroke-width="1.6"/>
<circle cx="100" cy="49.4" r="3.4" fill="url(#g_red)"/>
<path d="M85.3,82.5 H114.3" stroke="#2038cc" stroke-width="1.6"/>
<circle cx="100" cy="82.5" r="3.4" fill="url(#g_lime)"/>
<g font-family="Liberation Sans, Arial, sans-serif" font-size="10.15" fill="#111" stroke="#111" stroke-width="0.12">
<text x="117.6" y="53.5">CL spectra of K<tspan font-size="6.8" dy="2.2">2</tspan><tspan dy="-2.2">Cr</tspan><tspan font-size="6.8" dy="2.2">2</tspan><tspan dy="-2.2">O</tspan><tspan font-size="6.8" dy="2.2">7</tspan><tspan dy="-2.2">-</tspan></text>
<text x="111.2" y="70.8">Ga-KOH-HCHO system</text>
<text x="117.6" y="86.6">CL spectra of K<tspan font-size="6.8" dy="2.2">2</tspan><tspan dy="-2.2">Cr</tspan><tspan font-size="6.8" dy="2.2">2</tspan><tspan dy="-2.2">O</tspan><tspan font-size="6.8" dy="2.2">7</tspan><tspan dy="-2.2">-</tspan></text>
<text x="111.2" y="103.5">Ga-KOH system</text>
</g>
</svg>
</body></html>
